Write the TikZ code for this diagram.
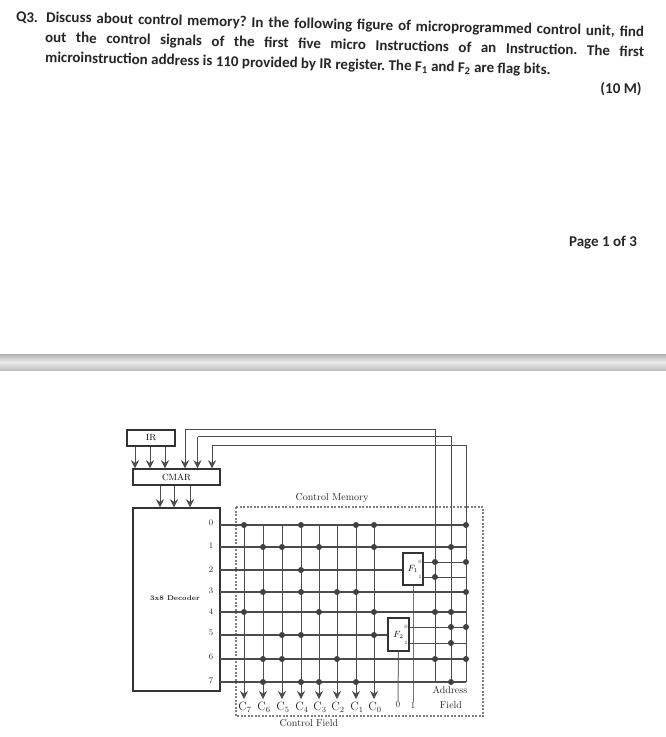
\documentclass[tikz,border=0pt]{standalone}
\usepackage{fontspec}
\usepackage{amsmath}
\newfontfamily\examfont{Carlito}
\usetikzlibrary{arrows.meta}
\usetikzlibrary{calc}

\tikzset{
 qline/.style={anchor=west, inner sep=0pt, rotate=-1.4, black!85, font=\examfont\bfseries\frenchspacing\fontsize{15}{17}\selectfont},
 regbox/.style={draw=black!80, line width=1.5pt, inner sep=0pt},
 wire/.style={black!70, line width=1pt},
 arr/.style={wire, -{Stealth[length=8pt,width=8pt]}},
 junc/.style={circle, fill=black!75, inner sep=0pt, minimum size=6pt},
 lab/.style={inner sep=0pt, black!85},
}

\begin{document}
\begin{tikzpicture}[x=1pt,y=-1pt]
\useasboundingbox (0,0) rectangle (666,737);

% question text
\node[qline] (qno) at (16,18) {Q3.};
\node[qline] (qa) at (46,18) {\makebox[598pt][s]{Discuss about control memory? In the following figure of microprogrammed control unit, find}};
\node[qline] (qb) at (45,38) {\makebox[599pt][s]{out the control signals of the first five micro Instructions of an Instruction. The first}};
\node[qline] (qc) at (45,58) {microinstruction address is 110 provided by IR register. The F\textsubscript{1} and F\textsubscript{2} are flag bits.};
\node[lab, font=\examfont\bfseries\fontsize{15}{17}\selectfont] (marks) at (621,89) {(10 M)};
\node[lab, font=\examfont\bfseries\fontsize{15}{17}\selectfont] (page) at (603,243) {Page 1 of 3};

% page break
\shade[top color=black!30, bottom color=black!25, middle color=black!8] (0,354) rectangle (666,370);

% registers
\node[regbox, minimum width=48pt, minimum height=16pt, font=\fontsize{9}{10}\selectfont] (IR) at (151,438) {IR};
\node[regbox, minimum width=87pt, minimum height=16pt, font=\fontsize{9}{10}\selectfont] (CMAR) at (176.5,477) {CMAR};
\node[regbox, minimum width=87pt, minimum height=183pt] (Decoder) at (176.5,599.5) {};
\node[lab, font=\bfseries\fontsize{7}{8}\selectfont] (dectxt) at (175,598) {3x8 Decoder};

\foreach \x in {135,150,165} {
 \draw[arr] (IR.south -| \x,0) -- (CMAR.north -| \x,0);
}
\foreach \x in {160,174,190} {
 \draw[arr] (CMAR.south -| \x,0) -- (Decoder.north -| \x,0);
}

% control memory frame
\draw[black!50, line width=1.1pt, dash pattern=on 2pt off 1.5pt] (236,507) rectangle (483,716);
\node[lab, font=\fontsize{10}{12}\selectfont] (cmtxt) at (332,498) {Control Memory};
\node[lab, font=\fontsize{10}{12}\selectfont] (cftxt) at (309,723) {Control Field};

% address columns and feedback to CMAR
\foreach \n/\x/\y/\z in {0/435/429.5/185,1/451/436.5/197.5,2/466/445/212} {
 \coordinate (a\n) at (\x,525);
 \coordinate (ab\n) at (\x,682);
 \coordinate (at\n) at (\x,\y);
 \coordinate (ft\n) at (\z,\y);
 \draw[wire] (ab\n) -- (at\n) -- (ft\n);
 \draw[arr] (ft\n) -- (CMAR.north -| ft\n);
}
\node[lab, font=\fontsize{10}{12}\selectfont] (addrtxt) at (450,690) {Address};
\node[lab, font=\fontsize{10}{12}\selectfont] (fieldtxt) at (451,705) {Field};

% flag selectors
\node[regbox, line width=1.2pt, minimum width=20pt, minimum height=32pt, font=\fontsize{9}{10}\selectfont] (F1) at (413,569) {$F_1$};
\node[regbox, line width=1.2pt, minimum width=21pt, minimum height=33pt, font=\fontsize{9}{10}\selectfont] (F2) at (398.5,634.5) {$F_2$};
\node[lab, font=\fontsize{5}{6}\selectfont] (fa0) at (420,562) {0};
\node[lab, font=\fontsize{5}{6}\selectfont] (fa1) at (420,577) {1};
\node[lab, font=\fontsize{5}{6}\selectfont] (fb0) at (406,627) {0};
\node[lab, font=\fontsize{5}{6}\selectfont] (fb1) at (406,643) {1};
\node[lab, font=\fontsize{9}{10}\selectfont] (sel0) at (398,705) {0};
\node[lab, font=\fontsize{9}{10}\selectfont] (sel1) at (413,705) {1};
\draw[wire, black!55] (F2.south) -- (sel0.north);
\draw[wire, black!55] (F1.south) -- (sel1.north);
\foreach \y/\b in {562/F1,577/F1,627/F2,643/F2} {
 \draw[wire] (\b.east |- 0,\y) -- (a2 |- 0,\y);
}

% control word rows
\foreach \r/\y/\t in {0/525/523,1/547/546,2/570/570,3/592/591,4/612/612,5/635/633,6/659/657,7/682/681} {
 \coordinate (r\r) at (220,\y);
 \node[lab, font=\fontsize{8.5}{10}\selectfont] (n\r) at (211,\t) {\r};
}
\foreach \r in {0,1,3,4,6,7} {
 \draw[wire, line width=1.2pt] (r\r) -- (a2 |- r\r);
}
\draw[wire, line width=1.2pt] (r2) -- (F1.west |- r2);
\draw[wire, line width=1.2pt] (r5) -- (F2.west |- r5);

% control columns
\foreach \c/\x in {7/244,6/263,5/282,4/301,3/319,2/337,1/356,0/374} {
 \coordinate (c\c) at (\x,525);
 \coordinate (ce\c) at (\x,699);
 \draw[arr] (c\c) -- (ce\c);
 \node[lab, font=\fontsize{12}{13}\selectfont] (lc\c) at ($(\x,707)+(1,0)$) {C$_{\mathrm{\c}}$};
}

% junctions on the control columns
\foreach \r/\c in {0/7,0/4,0/1,0/0,1/6,1/5,1/3,1/0,2/4,3/6,3/4,3/2,3/1,4/7,4/3,4/0,5/5,5/4,5/0,6/6,6/5,6/2,7/6,7/4,7/3,7/1} {
 \node[junc] (d\r\c) at (r\r -| c\c) {};
}
% junctions on the address columns
\foreach \r/\c in {0/2,1/1,3/2,4/0,4/1,6/0,6/2,7/1} {
 \node[junc] (e\r\c) at (r\r -| a\c) {};
}
\foreach \y/\c in {562/0,562/2,577/0,627/1,627/2,643/1} {
 \node[junc] (g\y\c) at (a\c |- 0,\y) {};
}
\end{tikzpicture}
\end{document}
